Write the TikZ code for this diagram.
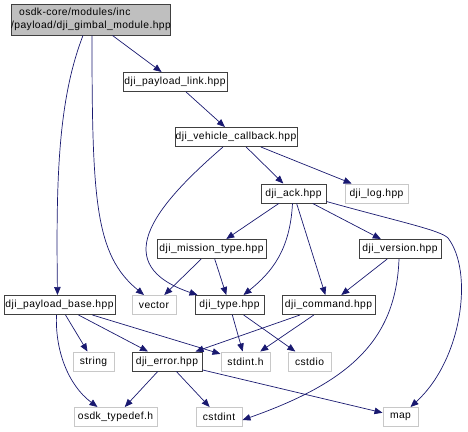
\documentclass[tikz,border=0pt]{standalone}
\usepackage{fontspec}
\setmainfont{Liberation Sans}[LetterSpace=4]
\usepackage{xcolor}
\usepackage{tikz}
\usetikzlibrary{arrows.meta}
\definecolor{edgeblue}{RGB}{25, 25, 112}
\definecolor{rootgray}{RGB}{191, 191, 191}
\definecolor{sysgray}{RGB}{200, 200, 200}

\begin{document}
\begin{tikzpicture}[x=1pt,y=-1pt,
  file/.style={draw=black!75, line width=1pt, fill=white, inner xsep=0pt, inner ysep=0pt,
    minimum height=19pt, font=\fontsize{10.3}{13}\selectfont},
  sysfile/.style={file, draw=sysgray},
  dep/.style={draw=edgeblue, line width=0.7pt, -{Triangle[length=8pt,width=6.5pt]}}]
\useasboundingbox (0,0) rectangle (468,431);
% Root file
\node[file, fill=rootgray, minimum width=156pt, minimum height=31pt, align=left] (root) at (91,19.5)
  {\hspace*{8pt}osdk-core/modules/inc\\/payload/dji\_gimbal\_module.hpp};
% Project headers
\node[file, minimum width=104pt] (plink) at (175,82) {dji\_payload\_link.hpp};
\node[file, minimum width=122pt] (vcb) at (236,137) {dji\_vehicle\_callback.hpp};
\node[file, minimum width=65pt] (ack) at (293.5,193.5) {dji\_ack.hpp};
\node[file, minimum width=109pt] (mission) at (211.5,249) {dji\_mission\_type.hpp};
\node[file, minimum width=82pt] (version) at (400,249) {dji\_version.hpp};
\node[file, minimum width=111pt] (pbase) at (59.5,305) {dji\_payload\_base.hpp};
\node[file, minimum width=69pt] (type) at (229.5,305) {dji\_type.hpp};
\node[file, minimum width=93pt] (command) at (328.5,305) {dji\_command.hpp};
\node[file, minimum width=70pt] (error) at (167,361.5) {dji\_error.hpp};
% System and missing headers
\node[sysfile, minimum width=63pt] (log) at (376.5,193.5) {dji\_log.hpp};
\node[sysfile, minimum width=44pt] (vector) at (154,305) {vector};
\node[sysfile, minimum width=41pt] (string) at (93.5,361.5) {string};
\node[sysfile, minimum width=49pt] (stdinth) at (245.5,361.5) {stdint.h};
\node[sysfile, minimum width=43pt] (cstdio) at (309.5,361.5) {cstdio};
\node[sysfile, minimum width=83pt] (typedef) at (115.5,417) {osdk\_typedef.h};
\node[sysfile, minimum width=46pt] (cstdint) at (219,417) {cstdint};
\node[sysfile, minimum width=35pt] (map) at (400.5,417) {map};
% Includes
\draw[dep] (root) -- (plink);
\draw[dep] ([xshift=-8pt]root.south) .. controls (58,100) and (56,180) .. ([xshift=-2pt]pbase.north);
\draw[dep] ([xshift=1pt]root.south) .. controls (92,200) and (95,255) .. ([xshift=-10pt]vector.north);
\draw[dep] (plink) -- (vcb);
\draw[dep] (vcb) -- (ack);
\draw[dep] (vcb) -- (log);
\draw[dep] ([xshift=-13pt]vcb.south) .. controls (150,210) and (110,265) .. ([xshift=-32pt]type.north);
\draw[dep] (ack) -- (mission);
\draw[dep] (ack) -- (version);
\draw[dep] (ack) -- (command);
\draw[dep] ([xshift=-1pt]ack.south) .. controls (290,250) and (272,272) .. ([xshift=14pt]type.north);
\draw[dep] ([yshift=2pt]ack.south east) .. controls (400,222) and (440,230) .. (448,238)
  .. controls (474,272) and (462,360) .. ([xshift=10pt]map.north);
\draw[dep] (mission) -- (vector);
\draw[dep] (mission) -- (type);
\draw[dep] (version) -- (command);
\draw[dep] ([xshift=-1pt]version.south) .. controls (396,340) and (350,382) .. ([yshift=-3pt]cstdint.east);
\draw[dep] (pbase) -- (string);
\draw[dep] (pbase) -- (error);
\draw[dep] (pbase) -- (stdinth);
\draw[dep] ([xshift=-3pt]pbase.south) .. controls (55,350) and (68,385) .. ([xshift=-18pt]typedef.north);
\draw[dep] (type) -- (stdinth);
\draw[dep] (type) -- (cstdio);
\draw[dep] (command) -- (error);
\draw[dep] (command) -- (stdinth);
\draw[dep] (error) -- (typedef);
\draw[dep] (error) -- (cstdint);
\draw[dep] (error) -- (map);
\end{tikzpicture}
\end{document}
